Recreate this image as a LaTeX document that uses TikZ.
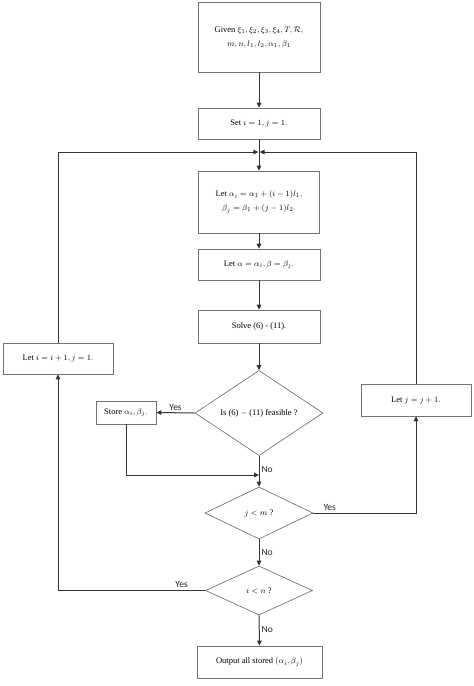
\documentclass[tikz,border=0pt]{standalone}
\usepackage{fontspec}
\setmainfont{Liberation Serif}
\newfontfamily\lblfont{Carlito}
\usetikzlibrary{arrows.meta,shapes.geometric}
\begin{document}
\begin{tikzpicture}[x=1pt,y=-1pt,
  box/.style={draw=black!55, line width=0.6pt, fill=white, inner sep=1pt, align=center,
    font=\fontsize{8.5}{14}\selectfont},
  dia/.style={diamond, draw=black!60, line width=0.6pt, fill=white, inner sep=0pt, align=center,
    font=\fontsize{8.5}{10}\selectfont},
  conn/.style={draw=black!80, line width=1pt, -{Triangle[length=5pt,width=4.5pt]}},
  lbl/.style={font=\lblfont\fontsize{9.5}{11}\selectfont, text=black!85, inner sep=1pt}]
\useasboundingbox (0,0) rectangle (474,686);
\fill[white] (0,0) rectangle (474,686);

\node[box, minimum width=122pt, minimum height=70pt] (given) at (259,37)
  {Given $\xi_1,\xi_2,\xi_3,\xi_4,T,\mathcal{R},$\\ $m,n,l_1,l_2,\alpha_1,\beta_1$};
\node[box, minimum width=122pt, minimum height=31pt] (set) at (259,123.5) {Set $i=1,j=1.$};
\node[box, minimum width=121pt, minimum height=62pt] (letab) at (259,202)
  {Let $\alpha_i=\alpha_1+(i-1)l_1,$\\ $\beta_j=\beta_1+(j-1)l_2.$};
\node[box, minimum width=122pt, minimum height=31pt] (letc) at (259,264.5) {Let $\alpha=\alpha_i,\beta=\beta_j.$};
\node[box, minimum width=122pt, minimum height=33pt] (solve) at (259,326.5) {Solve (6) - (11).};
\node[dia, minimum width=128pt, minimum height=82pt] (feas) at (259,413) {Is (6) $-$ (11) feasible ?};
\node[box, minimum width=60pt, minimum height=23pt] (store) at (126,412.5) {Store $\alpha_i,\beta_j.$};
\node[box, minimum width=110pt, minimum height=31pt] (leti) at (58,358.5) {Let $i=i+1,j=1.$};
\node[box, minimum width=110pt, minimum height=32pt] (letj) at (416,400) {Let $j=j+1.$};
\node[dia, minimum width=108pt, minimum height=52pt] (jm) at (259,513) {$j<m$ ?};
\node[dia, minimum width=107pt, minimum height=49pt] (in) at (259,590.5) {$i<n$ ?};
\node[box, minimum width=125pt, minimum height=32pt] (out) at (259.5,662) {Output all stored $(\alpha_i,\beta_j)$};

\coordinate (J) at (259,152);
\coordinate (S) at (259,475);

\draw[conn] (given) -- (set);
\draw[conn] (set) -- (letab);
\draw[conn] (leti.north) |- ([xshift=-0.6pt]J);
\draw[conn] (letj.north) |- ([xshift=0.6pt]J);
\draw[conn] (letab) -- (letc);
\draw[conn] (letc) -- (solve);
\draw[conn] (solve) -- (feas);
\draw[conn] (feas.west) -- (store.east) node[lbl, pos=0.5, above, yshift=1pt] {Yes};
\draw[conn] (store.south) |- (S);
\draw[conn] (feas.south) -- (jm.north) node[lbl, pos=0.45, right, xshift=1pt] {No};
\draw[conn] (jm.east) -| (letj.south) node[lbl, pos=0.08, above, yshift=1pt] {Yes};
\draw[conn] (jm.south) -- (in.north) node[lbl, pos=0.5, right, xshift=1pt] {No};
\draw[conn] (in.west) -| (leti.south) node[lbl, pos=0.08, above, yshift=1pt] {Yes};
\draw[conn] (in.south) -- (out.north) node[lbl, pos=0.45, right, xshift=1pt] {No};
\end{tikzpicture}
\end{document}
